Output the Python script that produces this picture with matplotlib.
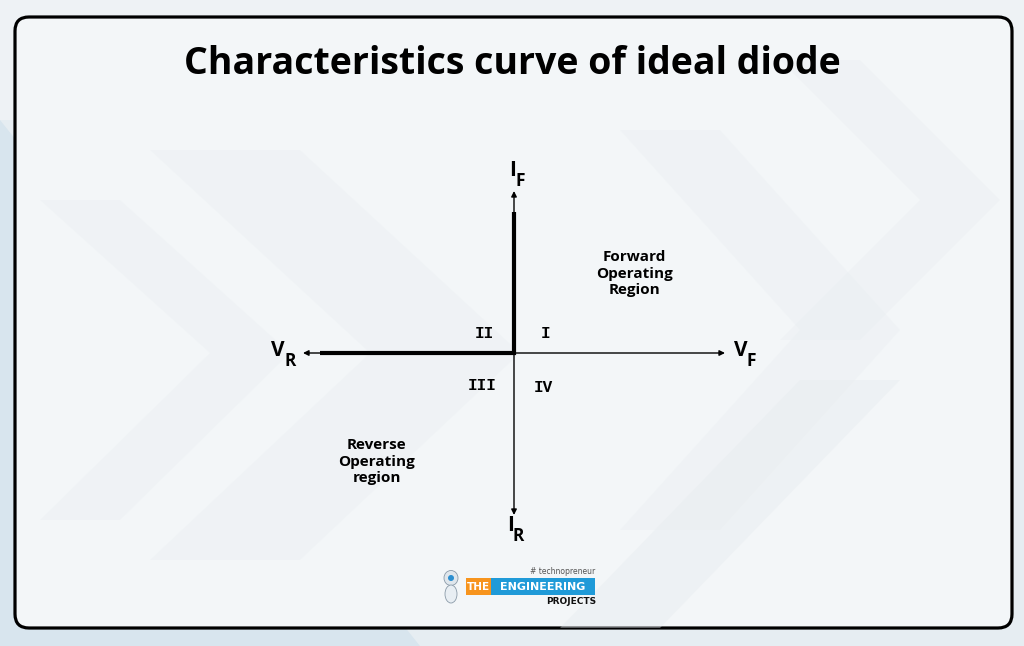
import matplotlib
matplotlib.use("Agg")
import matplotlib.pyplot as plt
from matplotlib.patches import FancyBboxPatch, Polygon, Rectangle, Ellipse

# ---- data ----
title = "Characteristics curve of ideal diode"
curve_v = [-0.92, 0.0, 0.0]      # ideal diode: I=0 for V<0, vertical at V=0
curve_i = [0.0, 0.0, 0.87]
axis_labels = {"IF": ("I", "F"), "VF": ("V", "F"), "VR": ("V", "R"), "IR": ("I", "R")}
quadrants = ["I", "II", "III", "IV"]
forward_label = "Forward\nOperating\nRegion"
reverse_label = "Reverse\nOperating\nregion"

W, H = 1024, 646
fig = plt.figure(figsize=(W / 100, H / 100), dpi=100)
fig.patch.set_facecolor("#e6edf2")

# background layer in pixel coordinates
bg = fig.add_axes([0, 0, 1, 1])
bg.set_xlim(0, W)
bg.set_ylim(H, 0)
bg.axis("off")
bg.add_patch(Polygon([(0, 120), (0, 646), (420, 646)], closed=True,
                     facecolor="#d8e5ee", edgecolor="none"))
bg.add_patch(Rectangle((0, 0), W, 120, facecolor="#eef2f5", edgecolor="none"))
frame = FancyBboxPatch((15, 17), 997, 611,
                       boxstyle="round,pad=0,rounding_size=14",
                       facecolor="#f3f6f8", edgecolor="black", linewidth=2.3,
                       zorder=1)
bg.add_patch(frame)
# faint chevrons
chev = [
    [(150, 150), (300, 150), (520, 353), (300, 560), (150, 560), (370, 353)],
    [(40, 200), (120, 200), (290, 353), (120, 520), (40, 520), (210, 353)],
    [(620, 130), (720, 130), (900, 330), (720, 530), (620, 530), (800, 330)],
    [(780, 60), (860, 60), (1000, 200), (860, 340), (780, 340), (920, 200)],
]
for c in chev:
    p = Polygon(c, closed=True, facecolor="#e7ecf0", edgecolor="none",
                alpha=0.3, zorder=1.2)
    p.set_clip_path(frame)
    bg.add_patch(p)
p = Polygon([(560, 628), (800, 380), (900, 380), (660, 628)], closed=True,
            facecolor="#e6ebee", edgecolor="none", alpha=0.4, zorder=1.2)
p.set_clip_path(frame)
bg.add_patch(p)

bg.text(512, 64, title, ha="center", va="center", fontsize=27,
        fontweight="bold", family="Open Sans", color="black", zorder=5)

# ---- logo ----
bg.add_patch(Rectangle((466, 578), 25, 17, facecolor="#f7941d", edgecolor="none", zorder=5))
bg.add_patch(Rectangle((491, 578), 104, 17, facecolor="#1f9ad8", edgecolor="none", zorder=5))
bg.text(478.5, 586.5, "THE", ha="center", va="center", fontsize=7.5,
        fontweight="bold", color="white", family="DejaVu Sans", zorder=6)
bg.text(543, 586.5, "ENGINEERING", ha="center", va="center", fontsize=8,
        fontweight="bold", color="white", family="DejaVu Sans", zorder=6)
bg.text(595, 571, "# technopreneur", ha="right", va="center", fontsize=5.5,
        color="#555555", family="DejaVu Sans", zorder=6)
bg.text(596, 602, "PROJECTS", ha="right", va="center", fontsize=6.5,
        fontweight="bold", color="#111111", family="DejaVu Sans", zorder=6)
bg.add_patch(Ellipse((451, 578), 14, 15, facecolor="#dfe6ec", edgecolor="#8a9aa8", lw=0.6, zorder=5))
bg.add_patch(Ellipse((451, 594), 12, 18, facecolor="#e8eef3", edgecolor="#8a9aa8", lw=0.6, zorder=5))
bg.add_patch(Ellipse((451, 578), 6, 6, facecolor="#2c8fd0", edgecolor="none", zorder=6))

# ---- chart axes ----
ax = fig.add_axes([303 / W, 1 - 515 / H, 422 / W, 324 / H])
ax.set_xlim(-1, 1)
ax.set_ylim(-1, 1)
ax.axis("off")
ax.patch.set_alpha(0)

arrow = dict(arrowstyle="<|-|>", lw=1.0, color="black", mutation_scale=8,
             shrinkA=0, shrinkB=0)
ax.annotate("", xy=(1, 0), xytext=(-1, 0), arrowprops=arrow)
ax.annotate("", xy=(0, 1), xytext=(0, -1), arrowprops=arrow)
ax.plot(curve_v, curve_i, color="black", lw=3.0, solid_joinstyle="miter",
        solid_capstyle="butt", zorder=4)

def sublabel(x, y, main, sub):
    ax.text(x, y, main, ha="right", va="baseline", fontsize=15,
            fontweight="bold", family="Open Sans", clip_on=False)
    ax.text(x - 0.005, y - 0.06, sub, ha="left", va="baseline", fontsize=12.5,
            fontweight="bold", family="Open Sans", clip_on=False)

sublabel(0.01, 1.09, *axis_labels["IF"])
sublabel(1.105, -0.02, *axis_labels["VF"])
sublabel(-1.085, -0.02, *axis_labels["VR"])
sublabel(0.0, -1.10, *axis_labels["IR"])

qpos = {"I": (0.15, 0.12), "II": (-0.14, 0.12), "III": (-0.15, -0.20), "IV": (0.14, -0.21)}
for q in quadrants:
    x, y = qpos[q]
    ax.text(x, y, q, ha="center", va="center", fontsize=11.5, fontweight="bold",
            family="Liberation Mono", clip_on=False)

ax.text(0.57, 0.49, forward_label, ha="center", va="center", fontsize=11,
        fontweight="bold", family="Open Sans", linespacing=1.25, clip_on=False)
ax.text(-0.65, -0.67, reverse_label, ha="center", va="center", fontsize=11,
        fontweight="bold", family="Open Sans", linespacing=1.25, clip_on=False)

fig.savefig("out.png", dpi=100, facecolor=fig.get_facecolor())
